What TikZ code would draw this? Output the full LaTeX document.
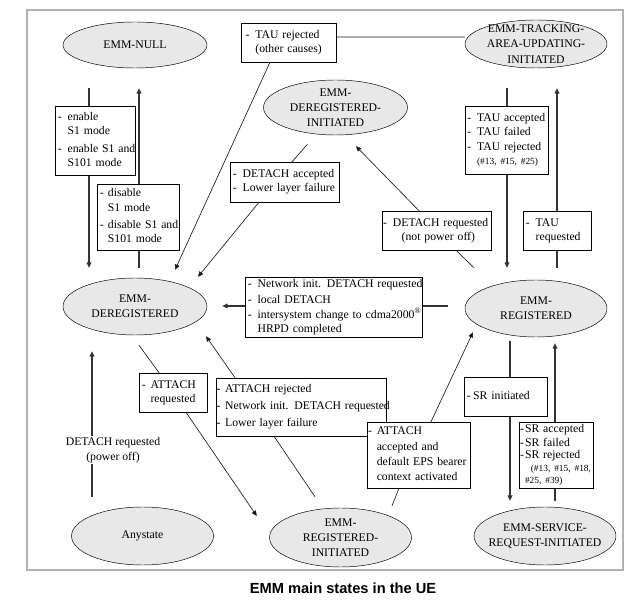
\documentclass[tikz,border=0pt]{standalone}
\usepackage{fontspec}
\setmainfont{Liberation Serif}
\setsansfont{Liberation Sans}
\usetikzlibrary{shapes.geometric, arrows.meta, backgrounds}

% dash list inside a cause box: #1 left pad, #2 gap after the dash
\newenvironment{causes}[2]{\begin{tabular}{@{\hspace{#1}}l@{\hspace{#2}}l@{}}}{\end{tabular}}

\begin{document}
\begin{tikzpicture}[x=0.03cm, y=-0.03cm, >={Triangle[length=4.5pt, width=4pt]},
  emm/.style={draw, ellipse, fill=gray!18, inner sep=-8pt, align=center,
    font=\fontsize{10}{13}\selectfont, minimum width=4.26cm, minimum height=1.72cm},
  cause/.style={draw, fill=white, rectangle, inner xsep=0pt, inner ysep=0pt,
    align=left, font=\fontsize{10}{12}\selectfont},
  conn/.style={black!90, line width=0.55pt},
  vconn/.style={black!80, line width=0.9pt}]
  \useasboundingbox (0,0) rectangle (639,600);

  % states
  \node[emm, minimum width=4.32cm, minimum height=1.38cm] (null) at (135,45) {EMM-NULL};
  \node[emm, minimum height=1.44cm] (trk) at (536,44) {EMM-TRACKING-\\AREA-UPDATING-\\INITIATED};
  \node[emm, minimum width=4.32cm, minimum height=1.65cm] (deri) at (335.5,107.5) {EMM-\\DEREGISTERED-\\INITIATED};
  \node[emm, minimum width=4.32cm, minimum height=1.71cm] (dereg) at (135,306.5) {EMM-\\DEREGISTERED};
  \node[emm, minimum height=1.71cm] (reg) at (536,308.5) {EMM-\\REGISTERED};
  \node[emm, minimum height=1.74cm] (any) at (142.5,536) {Anystate};
  \node[emm, minimum height=1.77cm] (regi) at (340.5,537.5) {EMM-\\REGISTERED-\\INITIATED};
  \node[emm, minimum height=1.74cm] (sri) at (545,536) {EMM-SERVICE-\\REQUEST-INITIATED};

  % causes
  \node[cause, text width=2.4cm, minimum height=2.07cm] (en) at (95,140.5) {\begin{causes}{2.5pt}{5pt}
    - & enable\\ & S1 mode\\[3pt]
    - & enable S1 and\\ & S101 mode
  \end{causes}};
  \node[cause, text width=2.46cm, minimum height=1.98cm] (dis) at (138,217) {\begin{causes}{2.5pt}{3.5pt}
    - & disable\\ & S1 mode\\[3pt]
    - & disable S1 and\\ & S101 mode
  \end{causes}};
  \node[cause, text width=2.85cm, minimum height=1.17cm] (tauoth) at (288.5,42.5) {\begin{causes}{4pt}{5pt}
    - & TAU rejected\\ & (other causes)
  \end{causes}};
  \node[cause, text width=3.27cm, minimum height=1.2cm] (detacc) at (284.5,182) {\begin{causes}{2.5pt}{5pt}
    - & DETACH accepted\\
    - & Lower layer failure
  \end{causes}};
  \node[cause, text width=3.27cm, minimum height=1.17cm] (detreq) at (436.5,230.5) {\begin{causes}{1pt}{5pt}
    - & DETACH requested\\ & \hspace{7.5pt}(not power off)
  \end{causes}};
  \node[cause, text width=2.49cm, minimum height=2.04cm] (tauacc) at (506.5,140) {\begin{causes}{2pt}{5pt}
    - & TAU accepted\\
    - & TAU failed\\[1pt]
    - & TAU rejected\\ & {\fontsize{8}{10}\selectfont(\#13, \#15, \#25)}
  \end{causes}};
  \node[cause, text width=2.04cm, minimum height=1.17cm] (taureq) at (557,230.5) {\begin{causes}{2.5pt}{5pt}
    - & TAU\\ & requested
  \end{causes}};
  \node[cause, text width=5.31cm, minimum height=1.8cm] (netdet) at (333.5,307) {\begin{causes}{2.5pt}{5pt}
    - & Network init. DETACH requested\\[2pt]
    - & local DETACH\\
    - & intersystem change to cdma2000\textsuperscript{®}\\ & HRPD completed
  \end{causes}};
  \node[cause, text width=2.04cm, minimum height=1.17cm] (attreq) at (173,392.5) {\begin{causes}{2.5pt}{4pt}
    - & ATTACH\\ & requested
  \end{causes}};
  \node[cause, text width=5.1cm, minimum height=1.74cm] (attrej) at (301,407) {\begin{causes}{0.5pt}{4pt}
    - & ATTACH rejected\\[2.5pt]
    - & Network init. DETACH requested\\[2.5pt]
    - & Lower layer failure
  \end{causes}};
  \node[cause, text width=2.49cm, minimum height=1.17cm] (srini) at (505.5,396.5) {\begin{causes}{2.5pt}{2pt}
    - & SR initiated
  \end{causes}};
  \node[cause, text width=3.09cm, minimum height=1.98cm] (attacc) at (418.5,455) {\begin{causes}{1pt}{4pt}
    - & ATTACH\\[1pt] & accepted and\\[1pt] & default EPS bearer\\[1pt] & context activated
  \end{causes}};
  \node[cause, text width=2.22cm, minimum height=1.98cm] (srres) at (556,455) {\begin{causes}{1pt}{0.8pt}
    - & SR accepted\\
    - & SR failed\\[-1.5pt]
    - & SR rejected\\[-1pt]
      & {\fontsize{8}{10}\selectfont\hspace{5pt}(\#13, \#15, \#18,}\\[-1.5pt]
      & {\fontsize{8}{10}\selectfont\#25, \#39)}
  \end{causes}};

  \node[font=\sffamily\bfseries\fontsize{12.5}{15}\selectfont] (cap) at (343,588) {EMM main states in the UE};

  \begin{scope}[on background layer]
    \draw[gray!60, line width=2pt] (27,10) rectangle (623,570);

    % transitions, each one through its cause box
    \draw[vconn, ->] ([shift={(-46,20)}]null.south) -- ([shift={(-46,-10)}]dereg.north);
    \draw[vconn, ->] ([shift={(4,-10)}]dereg.north) -- ([shift={(4,20)}]null.south);
    \draw[conn, ->] ([shift={(0,-7)}]trk.west) -- ([shift={(0,-5.5)}]tauoth.east)
      -- ([shift={(-18.5,0)}]tauoth.south) -- ([shift={(40,-8)}]dereg.north);
    \draw[conn, ->] ([shift={(-28,9)}]deri.south) -- ([shift={(7.5,0)}]detacc.north)
      -- ([shift={(-25.5,0)}]detacc.south) -- ([shift={(63,-1)}]dereg.north);
    \draw[conn, ->] ([shift={(-62,-12)}]reg.north) -- ([shift={(19.5,0)}]detreq.south)
      -- ([shift={(-17.5,0)}]detreq.north) -- ([shift={(20.5,11)}]deri.south);
    \draw[vconn, ->] ([shift={(-29,20)}]trk.south) -- ([shift={(-29,-12)}]reg.north);
    \draw[vconn, ->] ([shift={(21,-12)}]reg.north) -- ([shift={(21,20)}]trk.south);
    \draw[vconn, ->] ([shift={(-17,-2.5)}]reg.west) -- ([shift={(15,-0.5)}]dereg.east);
    \draw[conn, ->] ([shift={(4,10)}]dereg.south) -- ([shift={(-14,0)}]attreq.north)
      -- ([shift={(13,0)}]attreq.south) -- ([shift={(-12.5,-21.5)}]regi.west);
    \draw[conn, ->] ([shift={(-25.5,-11)}]regi.north) -- ([shift={(-27,0)}]attrej.south)
      -- ([shift={(-66,0)}]attrej.north) -- ([shift={(71,1)}]dereg.south);
    \draw[conn, ->] ([shift={(51.5,-2)}]regi.north) -- ([shift={(-19.5,0)}]attacc.south)
      -- ([shift={(12.5,0)}]attacc.north) -- ([shift={(-63,-5)}]reg.south);
    \draw[vconn, ->] ([shift={(-26,4)}]reg.south) -- ([shift={(-35,-6)}]sri.north);
    \draw[vconn, ->] ([shift={(10,-6)}]sri.north) -- ([shift={(19,6)}]reg.south);
    \draw[vconn, ->] ([shift={(-50.5,-10)}]any.north) --
      node[pos=0.32, xshift=0.63cm, fill=white, text=black, inner sep=1.5pt, align=center,
        font=\fontsize{10}{12}\selectfont] (pwroff) {DETACH requested\\(power off)}
      ([shift={(-43,16)}]dereg.south);
  \end{scope}
\end{tikzpicture}
\end{document}
